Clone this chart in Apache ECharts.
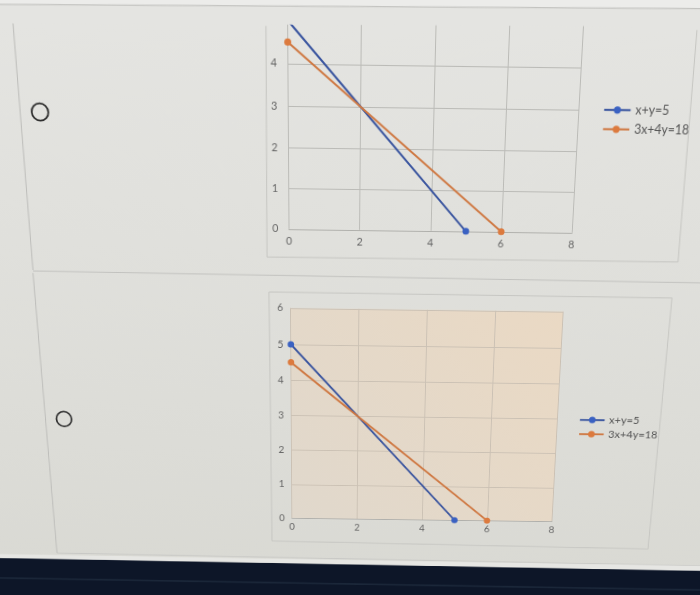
<!DOCTYPE html>
<html><head><meta charset="utf-8">
<script src="https://cdn.jsdelivr.net/npm/echarts@6/dist/echarts.min.js"></script>
<style>
html,body{margin:0;padding:0;width:700px;height:595px;overflow:hidden;background:#dcdcd7;}
#c{position:absolute;}
</style></head><body><div id="c"></div>
<script>
// ---- data ----
const seriesNames = ['x+y=5', '3x+4y=18'];
const xTicks = [0, 2, 4, 6, 8];
const topYTicks = [0, 1, 2, 3, 4];
const topYMax = 5;            // top of upper chart is cut off in the photo
const bottomYTicks = [0, 1, 2, 3, 4, 5, 6];
const lineA = [[0, 5], [5, 0]];      // x+y=5
const lineB = [[0, 4.5], [6, 0]];    // 3x+4y=18

// ---- photo perspective (keystone) ----
const H = 0.00022, CX = 320, D = 0.013, E = 1 + H * 300, B = H * CX;
const M = [[1, B, 0], [D, E, 0], [0, H, 1]];
function inv3(m) {
  const [a, b, c] = m[0], [d, e, f] = m[1], [g, h, i] = m[2];
  const C00 = e * i - f * h, C01 = -(d * i - f * g), C02 = d * h - e * g;
  const det = a * C00 + b * C01 + c * C02;
  return [[C00 / det, -(b * i - c * h) / det, (b * f - c * e) / det],
          [C01 / det, (a * i - c * g) / det, -(a * f - c * d) / det],
          [C02 / det, -(a * h - b * g) / det, (a * e - b * d) / det]];
}
const Mi = inv3(M);
const OX = 80, OY = 30, W = 880, HH = 700;
function P(x, y) {
  const w = Mi[2][0] * x + Mi[2][1] * y + Mi[2][2];
  const qx = (Mi[0][0] * x + Mi[0][1] * y + Mi[0][2]) / w;
  const qy = (Mi[1][0] * x + Mi[1][1] * y + Mi[1][2]) / w;
  return [qx + OX, qy + OY];
}
const el = document.getElementById('c');
el.style.left = (-OX) + 'px'; el.style.top = (-OY) + 'px';
el.style.width = W + 'px'; el.style.height = HH + 'px';
el.style.transformOrigin = OX + 'px ' + OY + 'px';
el.style.transform = `matrix3d(${M[0][0]},${M[1][0]},0,${M[2][0]},${M[0][1]},${M[1][1]},0,${M[2][1]},0,0,1,0,${M[0][2]},${M[1][2]},0,1)`;

// ---- layout from photo positions ----
const t0 = P(289, 229), t4 = P(289, 63.5), t8 = P(572, 231);
const tTop = t0[1] + (t4[1] - t0[1]) * topYMax / 4;
const b0 = P(292, 518), b6 = P(291, 308), b8 = P(552, 521);

const FONT = 'Lato';
const LBL = '#666666';
const GRID = '#bbbbb7';
const BLUE = '#3a559f', BLUE_M = '#3a61c2';
const ORANGE = '#cf7842', ORANGE_M = '#dc7a3e';

function pts(arr) { return arr.map(p => P(p[0], p[1])); }
function seg(a, b, stroke, lw, z) {
  const p = P(a[0], a[1]), q = P(b[0], b[1]);
  return { type: 'line', silent: true, z: z || 50, shape: { x1: p[0], y1: p[1], x2: q[0], y2: q[1] }, style: { stroke: stroke, lineWidth: lw } };
}
function poly(arr, fill, z, stroke) {
  return { type: 'polygon', silent: true, z: z, shape: { points: pts(arr) }, style: { fill: fill, stroke: stroke || null, lineWidth: 1 } };
}
function circ(cx, cy, r) {
  const c = P(cx, cy);
  return { type: 'circle', silent: true, z: 50, shape: { cx: c[0], cy: c[1], r: r }, style: { fill: 'transparent', stroke: '#2e2e2e', lineWidth: 1.8 } };
}

const graphics = [
  { type: 'rect', silent: true, z: -100, shape: { x: 0, y: 0, width: W, height: HH },
    style: { fill: new echarts.graphic.LinearGradient(0, 0, 0, 1, [{ offset: 0, color: '#e5e5e2' }, { offset: 1, color: '#d8d8d2' }]) } },
  // top strip + clipping band
  poly([[-60, -30], [760, -30], [760, 9], [-60, 4]], '#ececea', 90),
  poly([[-60, 4.5], [760, 9], [760, 31], [580, 26], [280, 24.5], [-60, 23]], '#e4e4e1', 90),
  seg([-60, 4], [760, 9], '#bfbfbc', 1, 95),
  // row boxes
  seg([13, 23], [33, 270], '#bdbdba', 1),
  seg([33, 271], [760, 284], '#c2c2bf', 1),
  seg([33, 273], [57, 553], '#bdbdba', 1),
  seg([57, 553], [760, 567], '#c8c8c5', 1),
  // chart boxes
  seg([266, 26], [267, 257], '#c6c6c2', 1),
  seg([267, 257], [678, 262], '#c6c6c2', 1),
  seg([697, 30], [678, 262], '#c6c6c2', 1),
  poly([[269, 292], [672, 298], [648, 549], [272, 541]], 'transparent', 50, '#c6c6c2'),
  // radio buttons
  circ(40, 112, 8.5),
  circ(64, 419, 8.3),
  // monitor bezel
  poly([[-60, 553], [760, 567], [760, 573], [-60, 558]], '#e6e6e3', 96),
  poly([[-60, 557], [760, 572], [760, 700], [-60, 700]], '#0d1628', 97),
  seg([-60, 577], [760, 591], '#1b2739', 2, 98)
];

function xAxisCfg(gi) {
  return { type: 'value', gridIndex: gi, min: xTicks[0], max: xTicks[xTicks.length - 1], interval: xTicks[1] - xTicks[0],
    axisLine: { show: true, lineStyle: { color: '#b0b0ac', width: 1 } }, axisTick: { show: false },
    splitLine: { show: true, lineStyle: { color: gi ? '#cbc1b4' : GRID, width: 1 } },
    axisLabel: { color: LBL, fontSize: 11, fontFamily: FONT, margin: gi ? 5 : 7 } };
}

const option = {
  animation: false,
  graphic: graphics,
  grid: [
    { left: t0[0], top: tTop, width: t8[0] - t0[0], height: t0[1] - tTop, show: false },
    { left: b0[0], top: b6[1], width: b8[0] - b0[0], height: b0[1] - b6[1], show: true, borderWidth: 0,
      backgroundColor: new echarts.graphic.LinearGradient(0, 1, 1, 0, [{ offset: 0, color: '#e0d8cc' }, { offset: 1, color: '#ead9c4' }]) }
  ],
  xAxis: [xAxisCfg(0), xAxisCfg(1)],
  yAxis: [
    { type: 'value', gridIndex: 0, min: topYTicks[0], max: topYMax, interval: topYTicks[1] - topYTicks[0],
      axisLine: { show: false }, axisTick: { show: false },
      splitLine: { show: true, lineStyle: { color: GRID, width: 1 } },
      axisLabel: { color: LBL, fontSize: 11, fontFamily: FONT, margin: 11,
        formatter: v => topYTicks.indexOf(v) >= 0 ? String(v) : '' } },
    { type: 'value', gridIndex: 1, min: bottomYTicks[0], max: bottomYTicks[bottomYTicks.length - 1], interval: bottomYTicks[1] - bottomYTicks[0],
      axisLine: { show: false }, axisTick: { show: false },
      splitLine: { show: true, lineStyle: { color: '#cbc1b4', width: 1 } },
      axisLabel: { color: LBL, fontSize: 11, fontFamily: FONT, margin: 8 } }
  ],
  legend: [
    { orient: 'vertical', left: P(599, 98)[0], top: P(599, 98)[1], itemWidth: 27, itemHeight: 9, itemGap: 6,
      data: seriesNames, textStyle: { color: '#555', fontSize: 12.5, fontFamily: FONT }, selectedMode: false },
    { orient: 'vertical', left: P(575, 410)[0], top: P(575, 410)[1], itemWidth: 27, itemHeight: 9, itemGap: 4,
      data: seriesNames, textStyle: { color: '#555', fontSize: 12, fontFamily: FONT }, selectedMode: false }
  ],
  series: [
    { name: seriesNames[0], type: 'line', xAxisIndex: 0, yAxisIndex: 0, data: lineA, symbol: 'circle', symbolSize: 7,
      lineStyle: { color: BLUE, width: 2 }, itemStyle: { color: BLUE_M }, z: 3 },
    { name: seriesNames[1], type: 'line', xAxisIndex: 0, yAxisIndex: 0, data: lineB, symbol: 'circle', symbolSize: 7,
      lineStyle: { color: ORANGE, width: 2 }, itemStyle: { color: ORANGE_M }, z: 3 },
    { name: seriesNames[0], type: 'line', xAxisIndex: 1, yAxisIndex: 1, data: lineA, symbol: 'circle', symbolSize: 7,
      lineStyle: { color: BLUE, width: 2 }, itemStyle: { color: BLUE_M }, z: 3 },
    { name: seriesNames[1], type: 'line', xAxisIndex: 1, yAxisIndex: 1, data: lineB, symbol: 'circle', symbolSize: 7,
      lineStyle: { color: ORANGE, width: 2 }, itemStyle: { color: ORANGE_M }, z: 3 }
  ]
};
const chart = echarts.init(el, null, { renderer: 'canvas', width: W, height: HH });
chart.setOption(option);
</script></body></html>
